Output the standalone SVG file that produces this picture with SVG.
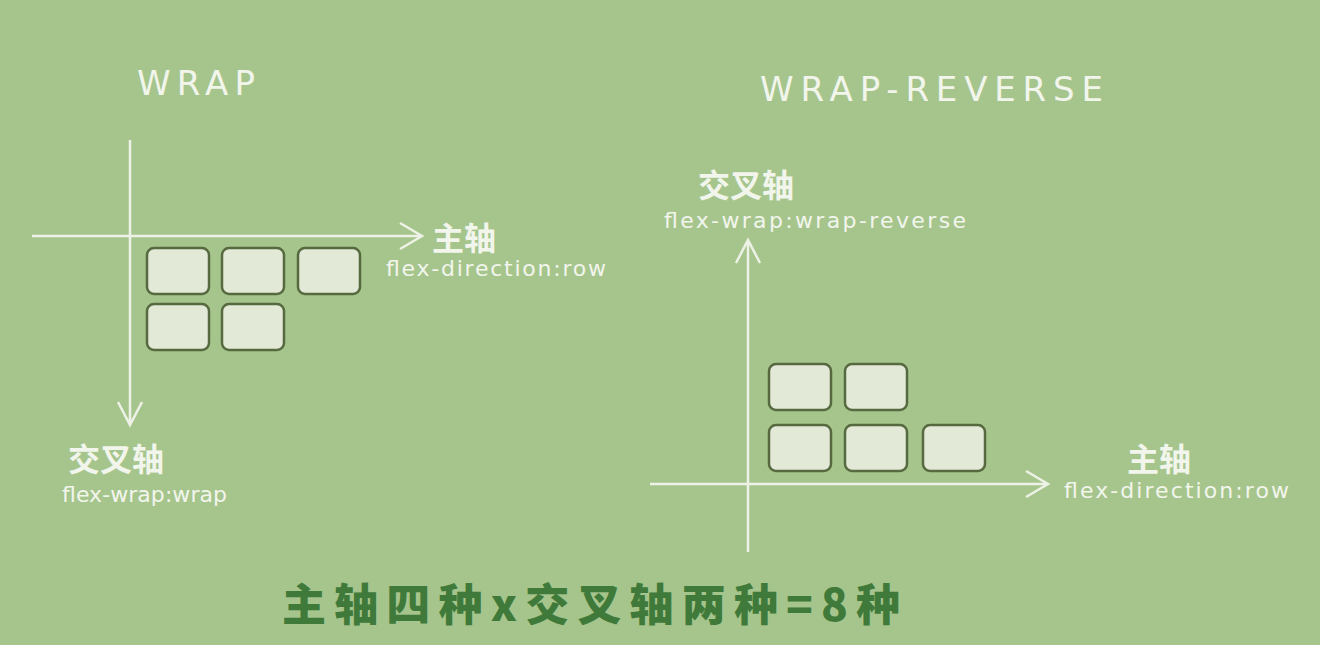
<svg xmlns="http://www.w3.org/2000/svg" width="1320" height="645" viewBox="0 0 1320 645">
<style>
.ax{stroke:#eef2e6;stroke-width:2.5;fill:none}
.bx{fill:#e3e9d7;stroke:#56693f;stroke-width:2.5}
.t{fill:#f2f5ec;font-family:"DejaVu Sans","Noto Sans CJK SC",sans-serif}
.h{font-size:34px;font-family:"DejaVu Sans",sans-serif}
.c{font-size:32px;font-weight:bold;font-family:"Noto Sans CJK SC",sans-serif}
.s{font-size:22px}
.b{fill:#3f7a3a;font-family:"Noto Sans CJK SC",sans-serif;font-size:44px;font-weight:900}
</style>
<rect width="1320" height="645" fill="#a6c58c"/>
<g id="connectors">
<path class="ax" d="M130 140V425M118 402L130 425L142 402"/>
<path class="ax" d="M32 236H422M400 223L422 236L400 249"/>
<path class="ax" d="M748 552V240M736 263L748 240L760 263"/>
<path class="ax" d="M650 484H1048M1026 471L1048 484L1026 497"/>
</g>
<g id="left-boxes">
<rect class="bx" x="147" y="248" width="62" height="46" rx="7"/>
<rect class="bx" x="222" y="248" width="62" height="46" rx="7"/>
<rect class="bx" x="298" y="248" width="62" height="46" rx="7"/>
<rect class="bx" x="147" y="304" width="62" height="46" rx="7"/>
<rect class="bx" x="222" y="304" width="62" height="46" rx="7"/>
</g>
<g id="right-boxes">
<rect class="bx" x="769" y="364" width="62" height="46" rx="7"/>
<rect class="bx" x="845" y="364" width="62" height="46" rx="7"/>
<rect class="bx" x="769" y="425" width="62" height="46" rx="7"/>
<rect class="bx" x="845" y="425" width="62" height="46" rx="7"/>
<rect class="bx" x="923" y="425" width="62" height="46" rx="7"/>
</g>
<g id="labels">
<text class="t h" x="137" y="95" textLength="118" lengthAdjust="spacing">WRAP</text>
<text class="t h" x="760" y="101" textLength="343" lengthAdjust="spacing">WRAP-REVERSE</text>
<text class="t c" x="432" y="250">主轴</text>
<text class="t s" x="386" y="276" textLength="220">flex-direction:row</text>
<text class="t c" x="68" y="471">交叉轴</text>
<text class="t s" x="62" y="502" textLength="165">flex-wrap:wrap</text>
<text class="t c" x="698" y="197">交叉轴</text>
<text class="t s" x="664" y="228" textLength="302">flex-wrap:wrap-reverse</text>
<text class="t c" x="1127" y="471">主轴</text>
<text class="t s" x="1064" y="498" textLength="225">flex-direction:row</text>
<text class="b" x="282" y="621" textLength="618" lengthAdjust="spacing">主轴四种x交叉轴两种=8种</text>
</g>
</svg>
